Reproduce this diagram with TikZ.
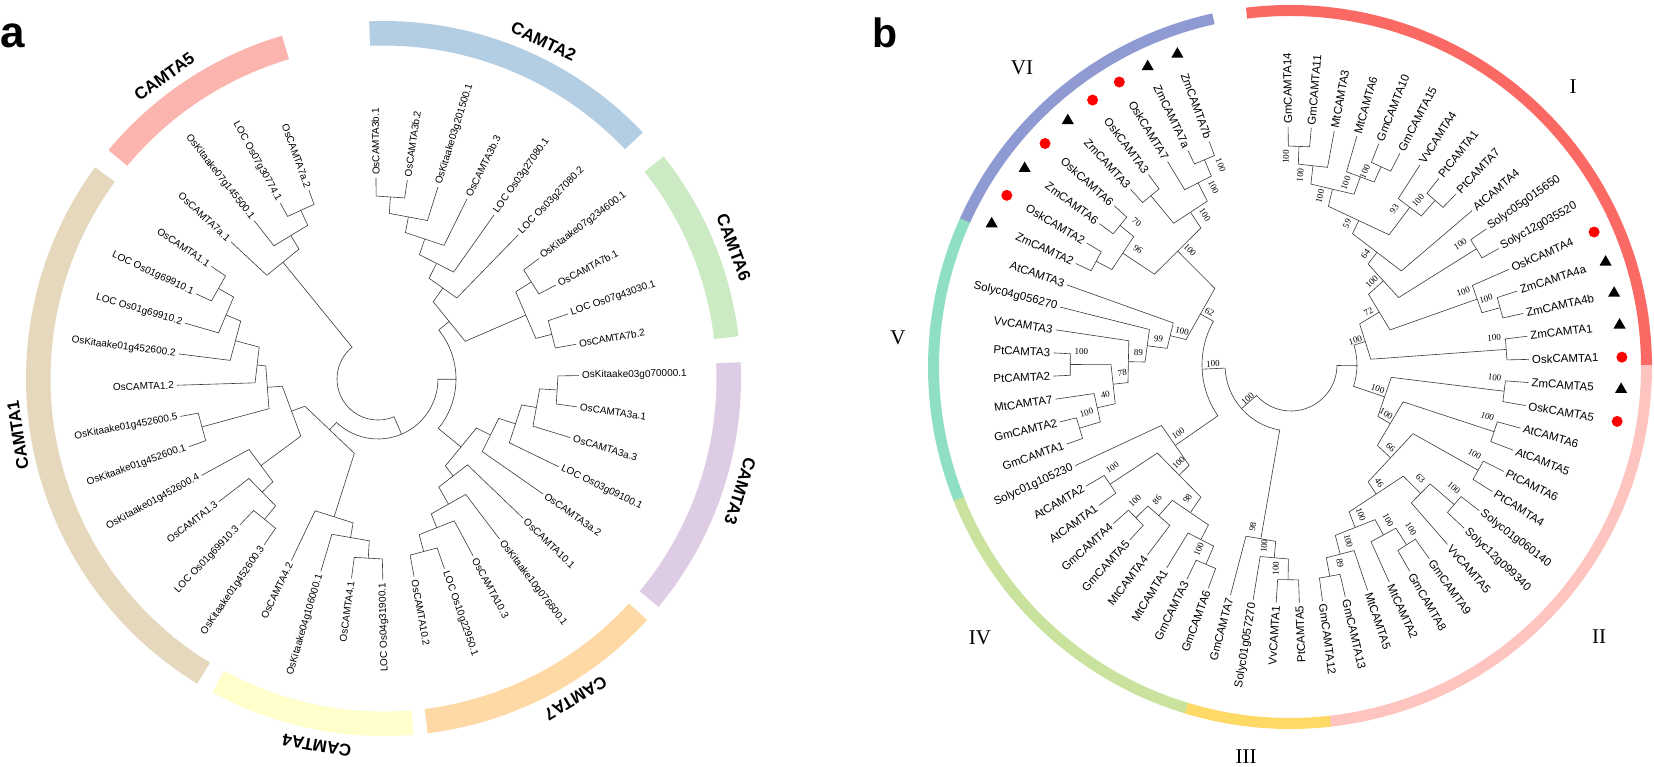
\documentclass[tikz,border=0pt]{standalone}
\usepackage{fontspec}
\setmainfont{Liberation Serif}
\newfontfamily\arialf{Liberation Sans}
\usetikzlibrary{shapes.geometric}

\definecolor{cAfive}{HTML}{FBB4AE}
\definecolor{cAtwo}{HTML}{B3CDE3}
\definecolor{cAsix}{HTML}{CCEBC5}
\definecolor{cAthree}{HTML}{DECBE4}
\definecolor{cAseven}{HTML}{FED9A6}
\definecolor{cAfour}{HTML}{FFFFCC}
\definecolor{cAone}{HTML}{E5D8BD}
\definecolor{cBI}{HTML}{FA6964}
\definecolor{cBII}{HTML}{FDC4C0}
\definecolor{cBIII}{HTML}{FFD966}
\definecolor{cBIV}{HTML}{C9E29D}
\definecolor{cBV}{HTML}{8FDFC2}
\definecolor{cBVI}{HTML}{8F9AD2}
\definecolor{treegray}{HTML}{3A3A3A}

\newcommand\RL{200}
\newcommand\RT{203}
\newcommand\LS{leafa}

\newcommand\TLeaf[3]{%
  \expandafter\xdef\csname tA@#1\endcsname{#2}%
  \expandafter\xdef\csname tS@#1\endcsname{\RL}%
  \pgfmathtruncatemacro\qqf{(mod(#2+720,360)>91)&&(mod(#2+720,360)<274)}%
  \ifnum\qqf=1
    \node[\LS,anchor=east,rotate=#2-180] (#1) at ({#2}:\RT) {#3};%
  \else
    \node[\LS,anchor=west,rotate=#2] (#1) at ({#2}:\RT) {#3};%
  \fi}
\newcommand\ALeaf[2]{\pgfmathsetmacro\qqang{110.1+8.96*(#1-1)}\TLeaf{a#1}{\qqang}{#2}}
\newcommand\BLeaf[2]{\pgfmathsetmacro\qqang{90.7-5.584*(#1-1)}\TLeaf{b#1}{\qqang}{#2}}

\newcommand\TreeGen[6]{%
  \pgfmathsetmacro\qqa{\csname tA@#3\endcsname}%
  \pgfmathsetmacro\qqb{\csname tA@#4\endcsname}%
  \edef\qqsa{\csname tS@#3\endcsname}%
  \edef\qqsb{\csname tS@#4\endcsname}%
  \pgfmathsetmacro\qqm{(\qqa+\qqb)/2}%
  \if#1a
    \draw[treeline] ({\qqa}:{\qqsa}) -- ({\qqa}:#5) arc[start angle=\qqa,end angle=\qqb,radius=#5pt] -- ({\qqb}:{\qqsb});%
    \edef\qqr{#5}%
  \else
    \draw[treeline] ({\qqa}:{\qqsa}) -- ({\qqa}:#5) -- ({\qqb}:#5) -- ({\qqb}:{\qqsb});%
    \pgfmathsetmacro\qqr{#5*cos((\qqa-\qqb)/2)}%
  \fi
  \expandafter\xdef\csname tA@#2\endcsname{\qqm}%
  \expandafter\xdef\csname tS@#2\endcsname{\qqr}%
  \if\relax\detokenize{#6}\relax\else
    \pgfmathtruncatemacro\qqf{(mod(\qqm+720,360)>91)&&(mod(\qqm+720,360)<274)}%
    \ifnum\qqf=1
      \node[bsl,rotate=\qqm-180] (#2bs) at ({\qqm-3.5}:{#5-11}) {#6};%
    \else
      \node[bsl,rotate=\qqm] (#2bs) at ({\qqm+3.5}:{#5-11}) {#6};%
    \fi
  \fi}
\newcommand\TreeC{\TreeGen c}
\newcommand\TreeA{\TreeGen a}

\newcommand\RingSeg[5]{%
  \fill[#5] (#1:#3) arc[start angle=#1,end angle=#2,radius=#3pt] -- (#2:#4) arc[start angle=#2,end angle=#1,radius=#4pt] -- cycle;}

\begin{document}
\begin{tikzpicture}[x=1pt,y=1pt,
  treeline/.style={draw=treegray, line width=0.6pt},
  leafa/.style={font=\arialf\fontsize{10}{12}\selectfont, inner sep=0pt},
  leafb/.style={font=\arialf\fontsize{11.5}{13}\selectfont, inner sep=0pt},
  bsl/.style={font=\fontsize{9}{10}\selectfont, inner sep=0pt},
  ringlab/.style={font=\arialf\bfseries\fontsize{17}{19}\selectfont, inner sep=0pt},
  roman/.style={font=\fontsize{21}{23}\selectfont, inner sep=0pt},
  panel/.style={font=\arialf\bfseries\fontsize{44}{46}\selectfont, inner sep=0pt, anchor=base west},
  rdot/.style={circle, fill=red, inner sep=0pt, minimum size=11pt},
  tri/.style={regular polygon, regular polygon sides=3, fill=black, inner sep=0pt, minimum size=14pt}]
\fill[white] (0,0) rectangle (1654,-767);
\useasboundingbox (0,0) rectangle (1654,-767);

% panel letters
\node[panel] (pa) at (0,-48) {a};
\node[panel, font=\arialf\bfseries\fontsize{41}{43}\selectfont] (pb) at (872,-48) {b};

% ===== Panel a ring =====
\begin{scope}[shift={(383.5,-378.5)}]
  \RingSeg{106.5}{140.3}{333}{357.5}{cAfive}
  \RingSeg{143.8}{238.6}{333}{357.5}{cAone}
  \RingSeg{241.4}{274.8}{333}{357.5}{cAfour}
  \RingSeg{277.1}{317.5}{333}{357.5}{cAseven}
  \RingSeg{320.3}{362.6}{333}{357.5}{cAthree}
  \RingSeg{6.8}{38.4}{333}{357.5}{cAsix}
  \RingSeg{43.5}{92.3}{333}{357.5}{cAtwo}
  \node[ringlab, rotate=36] (lc5) at (126:373) {CAMTA5};
  \node[ringlab, rotate=-25.4] (lc2) at (64.6:373) {CAMTA2};
  \node[ringlab, rotate=-69.5] (lc6) at (20.5:374) {CAMTA6};
  \node[ringlab, rotate=-107.5] (lc3) at (-17.5:374) {CAMTA3};
  \node[ringlab, rotate=-149] (lc7) at (-59:373) {CAMTA7};
  \node[ringlab, rotate=169.7] (lc4) at (259.7:373) {CAMTA4};
  \node[ringlab, rotate=98.8] (lc1) at (188.8:370) {CAMTA1};
\end{scope}

% ===== Panel a tree =====
\begin{scope}[shift={(378,-379)}]
  \renewcommand\RL{201}\renewcommand\RT{204}\renewcommand\LS{leafa}
  \ALeaf{1}{OsCAMTA7a.2}
  \ALeaf{2}{LOC Os07g30774.1}
  \ALeaf{3}{OsKitaake07g145500.1}
  \ALeaf{4}{OsCAMTA7a.1}
  \ALeaf{5}{OsCAMTA1.1}
  \ALeaf{6}{LOC Os01g69910.1}
  \ALeaf{7}{LOC Os01g69910.2}
  \ALeaf{8}{OsKitaake01g452600.2}
  \ALeaf{9}{OsCAMTA1.2}
  \ALeaf{10}{OsKitaake01g452600.5}
  \ALeaf{11}{OsKitaake01g452600.1}
  \ALeaf{12}{OsKitaake01g452600.4}
  \ALeaf{13}{OsCAMTA1.3}
  \ALeaf{14}{LOC Os01g69910.3}
  \ALeaf{15}{OsKitaake01g452600.3}
  \ALeaf{16}{OsCAMTA4.2}
  \ALeaf{17}{OsKitaake04g106000.1}
  \ALeaf{18}{OsCAMTA4.1}
  \ALeaf{19}{LOC Os04g31900.1}
  \ALeaf{20}{OsCAMTA10.2}
  \ALeaf{21}{LOC Os10g22950.1}
  \ALeaf{22}{OsCAMTA10.3}
  \ALeaf{23}{OsKitaake10g076600.1}
  \ALeaf{24}{OsCAMTA10.1}
  \ALeaf{25}{OsCAMTA3a.2}
  \ALeaf{26}{LOC Os03g09100.1}
  \ALeaf{27}{OsCAMTA3a.3}
  \ALeaf{28}{OsCAMTA3a.1}
  \ALeaf{29}{OsKitaake03g070000.1}
  \ALeaf{30}{OsCAMTA7b.2}
  \ALeaf{31}{LOC Os07g43030.1}
  \ALeaf{32}{OsCAMTA7b.1}
  \ALeaf{33}{OsKitaake07g234600.1}
  \ALeaf{34}{LOC Os03g27080.2}
  \ALeaf{35}{LOC Os03g27080.1}
  \ALeaf{36}{OsCAMTA3b.3}
  \ALeaf{37}{OsKitaake03g201500.1}
  \ALeaf{38}{OsCAMTA3b.2}
  \ALeaf{39}{OsCAMTA3b.1}
  % CAMTA5
  \TreeC{ap1}{a1}{a2}{186}{}
  \TreeC{ap2}{ap1}{a3}{169}{}
  \TreeC{ac5}{ap2}{a4}{152}{}
  % CAMTA1
  \TreeC{aq1}{a5}{a6}{184}{}
  \TreeC{aq2}{aq1}{a7}{166}{}
  \TreeC{aq3}{aq2}{a8}{149}{}
  \TreeC{aq4}{aq3}{a9}{123}{}
  \TreeC{aq5}{a10}{a11}{183}{}
  \TreeC{aq6}{aq4}{aq5}{113}{}
  \TreeC{aq7}{a14}{a15}{181}{}
  \TreeC{aq8}{a13}{aq7}{163}{}
  \TreeC{aq9}{a12}{aq8}{147}{}
  \TreeC{ac1}{aq6}{aq9}{96}{}
  % CAMTA4
  \TreeC{ar1}{a18}{a19}{180}{}
  \TreeC{ar2}{a17}{ar1}{162}{}
  \TreeC{ac4}{a16}{ar2}{146}{}
  \TreeC{ac14}{ac1}{ac4}{78}{}
  % CAMTA7
  \TreeC{as1}{a20}{a21}{179}{}
  \TreeC{as2}{as1}{a22}{161}{}
  \TreeC{as3}{as2}{a23}{145}{}
  \TreeC{ac7}{as3}{a24}{124}{}
  % CAMTA3
  \TreeC{at1}{a28}{a29}{180}{}
  \TreeC{at2}{a27}{at1}{162}{}
  \TreeC{at3}{a26}{at2}{146}{}
  \TreeC{ac3}{a25}{at3}{127}{}
  \TreeC{ac37}{ac7}{ac3}{110}{}
  % CAMTA6
  \TreeC{au1}{a30}{a31}{180}{}
  \TreeC{au2}{a32}{a33}{182}{}
  \TreeC{ac6}{au1}{au2}{163}{}
  % CAMTA2
  \TreeC{av1}{a38}{a39}{183}{}
  \TreeC{av2}{a37}{av1}{166}{}
  \TreeC{av3}{a36}{av2}{149}{}
  \TreeC{av4}{a35}{av3}{131}{}
  \TreeC{ac2}{a34}{av4}{113}{}
  \TreeC{ac26}{ac6}{ac2}{95}{}
  \TreeA{aright}{ac37}{ac26}{78}{}
  \TreeA{amid}{ac14}{aright}{60}{}
  \TreeA{aroot}{ac5}{amid}{41}{}
\end{scope}

% ===== Panel b ring =====
\begin{scope}[shift={(1290,-367)}]
  \RingSeg{0}{97}{351}{362}{cBI}
  \RingSeg{-83.7}{0.3}{351}{362}{cBII}
  \RingSeg{-107.1}{-83.5}{351}{362}{cBIII}
  \RingSeg{201.5}{253.1}{351}{362}{cBIV}
  \RingSeg{155.5}{201.7}{351}{362}{cBV}
  \RingSeg{102.4}{155.7}{351}{362}{cBVI}
\end{scope}
\node[roman] (rVI) at (1022,-68) {VI};
\node[roman] (rV) at (898,-338) {V};
\node[roman] (rIV) at (980,-638) {IV};
\node[roman] (rIII) at (1246,-757) {III};
\node[roman] (rII) at (1599,-637) {II};
\node[roman] (rI) at (1573,-87) {I};

% ===== Panel b tree =====
\begin{scope}[shift={(1291,-365)}]
  \renewcommand\RL{238}\renewcommand\RT{241}\renewcommand\LS{leafb}
  \BLeaf{1}{GmCAMTA14}
  \BLeaf{2}{GmCAMTA11}
  \BLeaf{3}{MtCAMTA3}
  \BLeaf{4}{MtCAMTA6}
  \BLeaf{5}{GmCAMTA10}
  \BLeaf{6}{GmCAMTA15}
  \BLeaf{7}{VvCAMTA4}
  \BLeaf{8}{PtCAMTA1}
  \BLeaf{9}{PtCAMTA7}
  \BLeaf{10}{AtCAMTA4}
  \BLeaf{11}{Solyc05g015650}
  \BLeaf{12}{Solyc12g035520}
  \BLeaf{13}{OskCAMTA4}
  \BLeaf{14}{ZmCAMTA4a}
  \BLeaf{15}{ZmCAMTA4b}
  \BLeaf{16}{ZmCAMTA1}
  \BLeaf{17}{OskCAMTA1}
  \BLeaf{18}{ZmCAMTA5}
  \BLeaf{19}{OskCAMTA5}
  \BLeaf{20}{AtCAMTA6}
  \BLeaf{21}{AtCAMTA5}
  \BLeaf{22}{PtCAMTA6}
  \BLeaf{23}{PtCAMTA4}
  \BLeaf{24}{Solyc01g060140}
  \BLeaf{25}{Solyc12g099340}
  \BLeaf{26}{VvCAMTA5}
  \BLeaf{27}{GmCAMTA9}
  \BLeaf{28}{GmCAMTA8}
  \BLeaf{29}{MtCAMTA2}
  \BLeaf{30}{MtCAMTA5}
  \BLeaf{31}{GmCAMTA13}
  \BLeaf{32}{GmCAMTA12}
  \BLeaf{33}{PtCAMTA5}
  \BLeaf{34}{VvCAMTA1}
  \BLeaf{35}{Solyc01g057270}
  \BLeaf{36}{GmCAMTA7}
  \BLeaf{37}{GmCAMTA6}
  \BLeaf{38}{GmCAMTA3}
  \BLeaf{39}{MtCAMTA1}
  \BLeaf{40}{MtCAMTA4}
  \BLeaf{41}{GmCAMTA5}
  \BLeaf{42}{GmCAMTA4}
  \BLeaf{43}{AtCAMTA1}
  \BLeaf{44}{AtCAMTA2}
  \BLeaf{45}{Solyc01g105230}
  \BLeaf{46}{GmCAMTA1}
  \BLeaf{47}{GmCAMTA2}
  \BLeaf{48}{MtCAMTA7}
  \BLeaf{49}{PtCAMTA2}
  \BLeaf{50}{PtCAMTA3}
  \BLeaf{51}{VvCAMTA3}
  \BLeaf{52}{Solyc04g056270}
  \BLeaf{53}{AtCAMTA3}
  \BLeaf{54}{ZmCAMTA2}
  \BLeaf{55}{OskCAMTA2}
  \BLeaf{56}{ZmCAMTA6}
  \BLeaf{57}{OskCAMTA6}
  \BLeaf{58}{ZmCAMTA3}
  \BLeaf{59}{OskCAMTA3}
  \BLeaf{60}{OskCAMTA7}
  \BLeaf{61}{ZmCAMTA7a}
  \BLeaf{62}{ZmCAMTA7b}
  % group I
  \TreeC{g1}{b1}{b2}{219}{100}
  \TreeC{g2}{g1}{b3}{201}{100}
  \TreeC{g3}{b5}{b6}{218}{100}
  \TreeC{g4}{b4}{g3}{201}{100}
  \TreeC{g5}{g2}{g4}{182}{100}
  \TreeC{g6}{b8}{b9}{219}{100}
  \TreeC{g7}{b7}{g6}{198}{93}
  \TreeC{g8}{g5}{g7}{163}{59}
  \TreeC{g9}{g8}{b10}{145}{64}
  \TreeC{g10}{b11}{b12}{219}{100}
  \TreeC{g11}{g9}{g10}{127}{100}
  \TreeC{g12}{b14}{b15}{217}{100}
  \TreeC{g13}{b13}{g12}{198}{100}
  \TreeC{g14}{g11}{g13}{105}{72}
  \TreeC{g15}{b16}{b17}{216}{100}
  \TreeC{gI}{g14}{g15}{80}{100}
  % group II
  \TreeC{h1}{b18}{b19}{215}{100}
  \TreeC{h2}{b20}{b21}{214}{100}
  \TreeC{h3}{b22}{b23}{215}{100}
  \TreeC{h4}{b24}{b25}{215}{100}
  \TreeC{h5}{h4}{b26}{183}{63}
  \TreeC{h6}{b27}{b28}{214}{100}
  \TreeC{h7}{b29}{h6}{194}{100}
  \TreeC{h8}{b31}{b32}{215}{89}
  \TreeC{h9}{b30}{h8}{196}{100}
  \TreeC{h10}{h7}{h9}{176}{100}
  \TreeC{hD}{h5}{h10}{158}{46}
  \TreeC{hC}{h3}{hD}{140}{66}
  \TreeC{hB}{h2}{hC}{118}{100}
  \TreeC{hII}{h1}{hB}{101}{100}
  \TreeA{gY}{gI}{hII}{66}{}
  % group III
  \TreeC{k1}{b33}{b34}{215}{100}
  \TreeC{k2}{k1}{b35}{194}{100}
  \TreeC{kIII}{k2}{b36}{177}{98}
  % group IV
  \TreeC{i1}{b43}{b44}{217}{100}
  \TreeC{i3}{b41}{b42}{218}{100}
  \TreeC{i4}{b40}{i3}{201}{86}
  \TreeC{i5}{b37}{b38}{217}{100}
  \TreeC{i6}{b39}{i5}{197}{}
  \TreeC{i7}{i4}{i6}{180}{98}
  \TreeC{ik}{i1}{i7}{160}{100}
  \TreeC{iIV}{b45}{ik}{143}{100}
  % group V
  \TreeC{n1}{b46}{b47}{221}{100}
  \TreeC{n2}{b48}{n1}{199}{40}
  \TreeC{n3}{b49}{b50}{221}{100}
  \TreeC{n4}{n2}{n3}{180}{78}
  \TreeC{n5}{b51}{n4}{164}{89}
  \TreeC{n6}{b52}{n5}{146}{99}
  \TreeC{n7}{b53}{n6}{125}{100}
  % group VI
  \TreeC{v1}{b61}{b62}{223}{100}
  \TreeC{v2}{b60}{v1}{205}{100}
  \TreeC{v3}{b58}{b59}{220}{}
  \TreeC{v4}{v3}{v2}{184}{100}
  \TreeC{v5}{b54}{b55}{221}{}
  \TreeC{v6}{b56}{b57}{221}{70}
  \TreeC{v7}{v5}{v6}{203}{96}
  \TreeC{v8}{v7}{v4}{164}{100}
  \TreeC{vW}{n7}{v8}{108}{62}
  \TreeA{vZ}{vW}{iIV}{89}{100}
  \TreeA{vX}{vZ}{kIII}{66}{100}
  \TreeA{broot}{vX}{gY}{46}{}
  % markers
  \foreach \j in {62,61,58,56,54,14,15,16,18} {
    \node[tri] (t\j) at ({90.7-5.584*(\j-1)}:331) {};
  }
  \foreach \j in {60,59,57,55,13,17,19} {
    \node[rdot] (d\j) at ({90.7-5.584*(\j-1)}:331) {};
  }
\end{scope}
\end{tikzpicture}
\end{document}
